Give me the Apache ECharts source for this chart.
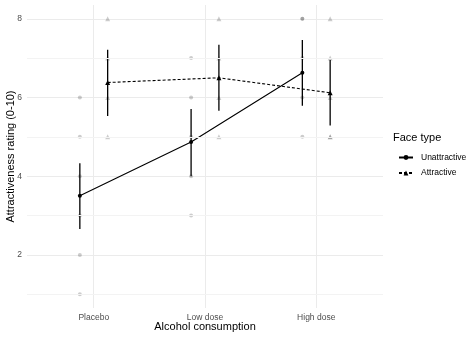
<!DOCTYPE html>
<html>
<head>
<meta charset="utf-8">
<script src="https://cdn.jsdelivr.net/npm/echarts@6/dist/echarts.min.js"></script>
<style>
  html, body { margin: 0; padding: 0; background: #fff; }
  #chart { width: 474px; height: 338px; }
</style>
</head>
<body>
<div id="chart"></div>
<script>
// Alcohol dose vs. rated attractiveness, by face type
const categories = ['Placebo', 'Low dose', 'High dose'];
const faceTypes = ['Unattractive', 'Attractive'];

// group means
const meanUnattractive = [3.5, 4.87, 6.63];
const meanAttractive = [6.38, 6.5, 6.12];

// confidence interval bounds
const lowUnattractive = [2.66, 4.0, 5.79];
const highUnattractive = [4.33, 5.71, 7.46];
const lowAttractive = [5.53, 5.66, 5.29];
const highAttractive = [7.21, 7.34, 6.95];

// individual ratings per dose
const rawUnattractive = [[1, 2, 3, 4, 5, 6], [3, 4, 5, 6, 7], [5, 6, 7, 8, 8]];
const rawAttractive = [[5, 6, 7, 8], [5, 6, 7, 8], [5, 5, 6, 7, 8]];

const yTicks = [2, 4, 6, 8];
const yMinor = [1, 3, 5, 7];

const dodge = 0.125; // half the dodge width between face types
const FONT = 'Liberation Sans, Arial, sans-serif';

function rawPoints(raw, shift) {
  const pts = [];
  raw.forEach((vals, i) => vals.forEach(v => pts.push([i + 1 + shift, v])));
  return pts;
}
function meanPoints(means, shift) {
  return means.map((m, i) => [i + 1 + shift, m]);
}
function barPoints(lo, hi, shift) {
  return lo.map((l, i) => [i + 1 + shift, l, hi[i]]);
}

const errorBarItem = function (params, api) {
  const x = api.value(0);
  const p1 = api.coord([x, api.value(1)]);
  const p2 = api.coord([x, api.value(2)]);
  return {
    type: 'line',
    shape: { x1: p1[0], y1: p1[1], x2: p2[0], y2: p2[1] },
    style: { stroke: '#000', lineWidth: 1.3 }
  };
};

const chart = echarts.init(document.getElementById('chart'), null, { renderer: 'canvas' });
chart.setOption({
  animation: false,
  backgroundColor: '#fff',
  textStyle: { fontFamily: FONT },
  title: {
    text: 'Face type',
    left: 393, top: 132,
    padding: 0,
    textStyle: { fontFamily: FONT, fontSize: 11, fontWeight: 'normal', color: '#000' }
  },
  legend: {
    data: faceTypes,
    orient: 'vertical',
    left: 398, top: 153,
    padding: 0,
    itemWidth: 14, itemHeight: 6,
    itemGap: 6.5,
    textStyle: { fontFamily: FONT, fontSize: 8.5, color: '#000', padding: [0, 0, 0, 3] }
  },
  grid: { left: 27, right: 91, top: 5, bottom: 30, containLabel: false, outerBoundsMode: 'none' },
  xAxis: {
    type: 'value',
    min: 0.4, max: 3.6,
    name: 'Alcohol consumption',
    nameLocation: 'middle',
    nameGap: 13,
    nameMoveOverlap: false,
    nameTextStyle: { fontFamily: FONT, fontSize: 11, color: '#000' },
    axisLine: { show: false },
    axisTick: { show: false, customValues: [1, 2, 3] },
    axisLabel: {
      customValues: [1, 2, 3],
      formatter: v => categories[Math.round(v) - 1] || '',
      fontFamily: FONT, fontSize: 8.5, color: '#4d4d4d', margin: 5
    },
    splitLine: { show: true, lineStyle: { color: '#ebebeb', width: 1 } }
  },
  yAxis: {
    type: 'value',
    min: 0.65, max: 8.35,
    name: 'Attractiveness rating (0-10)',
    nameLocation: 'middle',
    nameGap: 11,
    nameMoveOverlap: false,
    nameTextStyle: { fontFamily: FONT, fontSize: 11, color: '#000' },
    axisLine: { show: false },
    axisTick: { show: false, customValues: yTicks },
    axisLabel: {
      customValues: yTicks,
      fontFamily: FONT, fontSize: 8.5, color: '#4d4d4d', margin: 5
    },
    splitLine: { show: true, lineStyle: { color: '#ebebeb', width: 1 } }
  },
  series: [
    {
      type: 'scatter',
      name: 'minor-grid',
      data: [],
      silent: true,
      markLine: {
        silent: true,
        symbol: 'none',
        label: { show: false },
        lineStyle: { color: '#f3f3f3', width: 1, type: 'solid' },
        data: yMinor.map(v => ({ yAxis: v }))
      }
    },
    {
      type: 'scatter',
      name: 'rawU',
      symbol: 'circle',
      symbolSize: 4,
      itemStyle: { color: 'rgba(0,0,0,0.25)' },
      data: rawPoints(rawUnattractive, -dodge),
      z: 2
    },
    {
      type: 'scatter',
      name: 'rawA',
      symbol: 'triangle',
      symbolSize: 5,
      itemStyle: { color: 'rgba(0,0,0,0.25)' },
      data: rawPoints(rawAttractive, dodge),
      z: 2
    },
    {
      type: 'custom',
      name: 'ciU',
      renderItem: errorBarItem,
      data: barPoints(lowUnattractive, highUnattractive, -dodge),
      encode: { x: 0, y: [1, 2] },
      z: 3
    },
    {
      type: 'custom',
      name: 'ciA',
      renderItem: errorBarItem,
      data: barPoints(lowAttractive, highAttractive, dodge),
      encode: { x: 0, y: [1, 2] },
      z: 3
    },
    {
      type: 'line',
      name: 'Unattractive',
      data: meanPoints(meanUnattractive, -dodge),
      symbol: 'circle',
      symbolSize: 4,
      showAllSymbol: true,
      lineStyle: { color: '#000', width: 1.1, type: 'solid' },
      itemStyle: { color: '#000' },
      z: 4
    },
    {
      type: 'line',
      name: 'Attractive',
      data: meanPoints(meanAttractive, dodge),
      symbol: 'triangle',
      symbolSize: 5,
      showAllSymbol: true,
      lineStyle: { color: '#000', width: 1.1, type: [3, 2] },
      itemStyle: { color: '#000' },
      z: 4
    }
  ]
});
</script>
</body>
</html>
